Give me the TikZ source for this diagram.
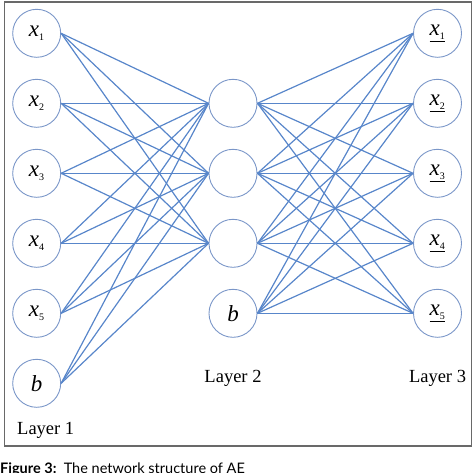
\documentclass[tikz,border=0pt]{standalone}
\usepackage{fontspec}
\setmainfont{Liberation Serif}
\newfontfamily\capfont{Lato}
\usepackage{tikz}
\usetikzlibrary{positioning}
\definecolor{linkblue}{RGB}{88,134,202}
\definecolor{ringblue}{RGB}{122,150,200}
\definecolor{framegray}{RGB}{105,105,105}
\newcommand{\xin}[1]{\textit{x}\textsubscript{\fontsize{10}{10}\selectfont #1}}
\newcommand{\xout}[1]{\underline{\textit{x}\textsubscript{\fontsize{10}{10}\selectfont #1}}}
\tikzset{node distance=70pt, on grid,
neuron/.style={circle, draw=ringblue, line width=0.9pt, minimum size=48pt, inner sep=0pt, font=\fontsize{23}{24}\selectfont},
link/.style={draw=linkblue, line width=1.2pt},
layertext/.style={font=\fontsize{18.5}{20}\selectfont, inner sep=0pt}}

\begin{document}
\begin{tikzpicture}

    \clip (0pt,0pt) rectangle (474pt,-472pt);
    \draw[framegray, line width=1.2pt] (4.6pt,-2pt) rectangle (471.6pt,-446pt);

    % Layer 1
    \node[neuron] (x1) at (36.7pt,-33.3pt) {\xin{1}};
    \node[neuron, below=of x1] (x2) {\xin{2}};
    \node[neuron, below=of x2] (x3) {\xin{3}};
    \node[neuron, below=of x3] (x4) {\xin{4}};
    \node[neuron, below=of x4] (x5) {\xin{5}};
    \node[neuron, below=of x5] (b1) {\textit{b}};

    % Layer 2
    \node[neuron, right=196.3pt of x2] (h1) {};
    \node[neuron, below=of h1] (h2) {};
    \node[neuron, below=of h2] (h3) {};
    \node[neuron, below=of h3] (b2) {\textit{b}};

    % Layer 3
    \node[neuron, right=400.8pt of x1] (y1) {\xout{1}};
    \node[neuron, below=of y1] (y2) {\xout{2}};
    \node[neuron, below=of y2] (y3) {\xout{3}};
    \node[neuron, below=of y3] (y4) {\xout{4}};
    \node[neuron, below=of y4] (y5) {\xout{5}};

    % Labels
    \node[layertext, anchor=west] (lay1) at (17pt,-430pt) {Layer 1};
    \node[layertext, below=65pt of b2] (lay2) {Layer 2};
    \node[layertext, below=65pt of y5] (lay3) {Layer 3};
    \node[anchor=base west, inner sep=0pt, font=\capfont\fontsize{14.5}{16}\selectfont] (cap) at (0pt,-473pt)
        {\textbf{Figure 3:}\enspace The network structure of AE};

    % Edges
    \path[link] (x1.east) edge (h1.west) edge (h2.west) edge (h3.west)
                (x2.east) edge (h1.west) edge (h2.west) edge (h3.west)
                (x3.east) edge (h1.west) edge (h2.west) edge (h3.west)
                (x4.east) edge (h1.west) edge (h2.west) edge (h3.west)
                (x5.east) edge (h1.west) edge (h2.west) edge (h3.west)
                (b1.east) edge (h1.west) edge (h2.west) edge (h3.west);
    \path[link] (h1.east) edge (y1.west) edge (y2.west) edge (y3.west) edge (y4.west) edge (y5.west)
                (h2.east) edge (y1.west) edge (y2.west) edge (y3.west) edge (y4.west) edge (y5.west)
                (h3.east) edge (y1.west) edge (y2.west) edge (y3.west) edge (y4.west) edge (y5.west)
                (b2.east) edge (y1.west) edge (y2.west) edge (y3.west) edge (y4.west) edge (y5.west);
  \end{tikzpicture}
\end{document}
